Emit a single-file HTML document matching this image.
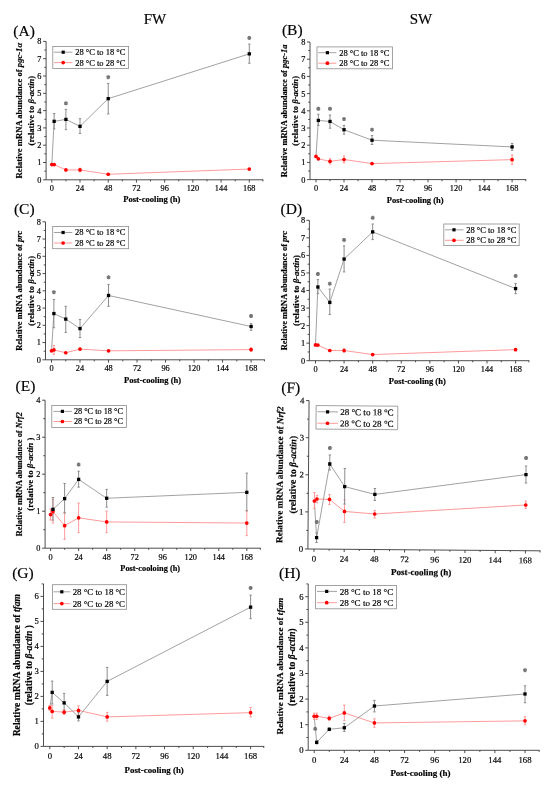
<!DOCTYPE html>
<html><head><meta charset="utf-8"><style>
html,body{margin:0;padding:0;background:#fff;}
body{width:550px;height:787px;overflow:hidden;}
svg{display:block;font-family:"Liberation Serif", serif;filter:blur(0.4px);}
text{stroke:#000;stroke-width:0.18px;}
</style></head><body>
<svg width="550" height="787" viewBox="0 0 550 787">
<text x="154.9" y="23.9" text-anchor="middle" font-size="15">FW</text>
<text x="420.9" y="24.1" text-anchor="middle" font-size="15">SW</text>
<path d="M46.1 41.4V179.8H263.3" fill="none" stroke="#3a3a3a" stroke-width="0.9"/>
<path d="M43.1 179.8H46.1M44.3 171.15H46.1M43.1 162.5H46.1M44.3 153.85H46.1M43.1 145.2H46.1M44.3 136.55H46.1M43.1 127.9H46.1M44.3 119.25H46.1M43.1 110.6H46.1M44.3 101.95H46.1M43.1 93.3H46.1M44.3 84.65H46.1M43.1 76H46.1M44.3 67.35H46.1M43.1 58.7H46.1M44.3 50.05H46.1M43.1 41.4H46.1M51.8 179.8V182.6M65.91 179.8V181.4M80.01 179.8V182.6M94.12 179.8V181.4M108.23 179.8V182.6M122.34 179.8V181.4M136.44 179.8V182.6M150.55 179.8V181.4M164.66 179.8V182.6M178.76 179.8V181.4M192.87 179.8V182.6M206.98 179.8V181.4M221.09 179.8V182.6M235.19 179.8V181.4M249.3 179.8V182.6M262.85 179.8V181.4" stroke="#3a3a3a" stroke-width="0.9"/>
<text x="41.4" y="182.7" text-anchor="end" font-size="8.3">0</text>
<text x="41.4" y="165.4" text-anchor="end" font-size="8.3">1</text>
<text x="41.4" y="148.1" text-anchor="end" font-size="8.3">2</text>
<text x="41.4" y="130.8" text-anchor="end" font-size="8.3">3</text>
<text x="41.4" y="113.5" text-anchor="end" font-size="8.3">4</text>
<text x="41.4" y="96.2" text-anchor="end" font-size="8.3">5</text>
<text x="41.4" y="78.9" text-anchor="end" font-size="8.3">6</text>
<text x="41.4" y="61.6" text-anchor="end" font-size="8.3">7</text>
<text x="41.4" y="44.3" text-anchor="end" font-size="8.3">8</text>
<text x="51.8" y="191.4" text-anchor="middle" font-size="8.3">0</text>
<text x="80.01" y="191.4" text-anchor="middle" font-size="8.3">24</text>
<text x="108.23" y="191.4" text-anchor="middle" font-size="8.3">48</text>
<text x="136.44" y="191.4" text-anchor="middle" font-size="8.3">72</text>
<text x="164.66" y="191.4" text-anchor="middle" font-size="8.3">96</text>
<text x="192.87" y="191.4" text-anchor="middle" font-size="8.3">120</text>
<text x="221.09" y="191.4" text-anchor="middle" font-size="8.3">144</text>
<text x="249.3" y="191.4" text-anchor="middle" font-size="8.3">168</text>
<text transform="translate(22.02 110.6) rotate(-90)" text-anchor="middle" font-size="8.6" font-weight="bold">Relative mRNA abundance of <tspan font-style="italic">pgc-1α</tspan></text>
<text transform="translate(34.22 110.6) rotate(-90)" text-anchor="middle" font-size="8.6" font-weight="bold">(relative to <tspan font-style="italic">β-actin</tspan>)</text>
<text x="151.8" y="201.8" text-anchor="middle" font-size="8.55" font-weight="bold">Post-cooling (h)</text>
<text x="13.3" y="35.6" font-size="15.5">(A)</text>
<rect x="52.8" y="46.4" width="75.8" height="22" fill="#fff" stroke="#8c8c8c" stroke-width="0.8"/>
<path d="M54 52.2h18.4" stroke="#8a8a8a" stroke-width="0.8"/>
<rect x="61.6" y="50.6" width="3.2" height="3.2" fill="#000"/>
<path d="M54 62.6h18.4" stroke="#ff8080" stroke-width="0.8"/>
<circle cx="63.2" cy="62.6" r="1.85" fill="#f00"/>
<text x="75.2" y="55.13" font-size="8.5">28 °C to 18 °C</text>
<text x="75.2" y="65.53" font-size="8.5">28 °C to 28 °C</text>
<polyline points="51.8,164.58 54.15,164.58 65.91,169.94 80.01,169.94 108.23,174.26 249.3,169.07" fill="none" stroke="#ff8080" stroke-width="0.8"/>
<polyline points="51.8,164.58 54.15,121.33 65.91,119.42 80.01,126.34 108.23,98.66 249.3,53.86" fill="none" stroke="#8a8a8a" stroke-width="0.8"/>
<path d="M80.01 171.67V168.21M78.81 171.67h2.4M78.81 168.21h2.4" stroke="#ff9a9a" stroke-width="1"/>
<path d="M54.15 128.94V113.54M52.95 128.94h2.4M52.95 113.54h2.4M65.91 129.63V109.39M64.71 129.63h2.4M64.71 109.39h2.4M80.01 133.44V118.73M78.81 133.44h2.4M78.81 118.73h2.4M108.23 113.89V83.44M107.03 113.89h2.4M107.03 83.44h2.4M249.3 63.2V44.17M248.1 63.2h2.4M248.1 44.17h2.4" stroke="#8c8c8c" stroke-width="1"/>
<circle cx="51.8" cy="164.58" r="1.85" fill="#f00"/>
<circle cx="54.15" cy="164.58" r="1.85" fill="#f00"/>
<circle cx="65.91" cy="169.94" r="1.85" fill="#f00"/>
<circle cx="80.01" cy="169.94" r="1.85" fill="#f00"/>
<circle cx="108.23" cy="174.26" r="1.85" fill="#f00"/>
<circle cx="249.3" cy="169.07" r="1.85" fill="#f00"/>
<rect x="52.5" y="119.68" width="3.3" height="3.3" fill="#000"/>
<rect x="64.26" y="117.77" width="3.3" height="3.3" fill="#000"/>
<rect x="78.36" y="124.69" width="3.3" height="3.3" fill="#000"/>
<rect x="106.58" y="97.01" width="3.3" height="3.3" fill="#000"/>
<rect x="247.65" y="52.21" width="3.3" height="3.3" fill="#000"/>
<path d="M65.91 101.33L65.91 105.33M64.18 102.33L67.64 104.33M64.18 104.33L67.64 102.33" stroke="#777" stroke-width="1.5"/>
<circle cx="65.91" cy="103.33" r="1.2" fill="#777"/>
<path d="M108.23 75.21L108.23 79.21M106.5 76.21L109.96 78.21M106.5 78.21L109.96 76.21" stroke="#777" stroke-width="1.5"/>
<circle cx="108.23" cy="77.21" r="1.2" fill="#777"/>
<path d="M249.3 35.94L249.3 39.94M247.57 36.94L251.03 38.94M247.57 38.94L251.03 36.94" stroke="#777" stroke-width="1.5"/>
<circle cx="249.3" cy="37.94" r="1.2" fill="#777"/>
<path d="M310 42V179.6H526.2" fill="none" stroke="#3a3a3a" stroke-width="0.9"/>
<path d="M307 179.6H310M308.2 171H310M307 162.4H310M308.2 153.8H310M307 145.2H310M308.2 136.6H310M307 128H310M308.2 119.4H310M307 110.8H310M308.2 102.2H310M307 93.6H310M308.2 85H310M307 76.4H310M308.2 67.8H310M307 59.2H310M308.2 50.6H310M307 42H310M316 179.6V182.4M330.01 179.6V181.2M344.01 179.6V182.4M358.02 179.6V181.2M372.03 179.6V182.4M386.04 179.6V181.2M400.04 179.6V182.4M414.05 179.6V181.2M428.06 179.6V182.4M442.06 179.6V181.2M456.07 179.6V182.4M470.08 179.6V181.2M484.09 179.6V182.4M498.09 179.6V181.2M512.1 179.6V182.4M525.75 179.6V181.2" stroke="#3a3a3a" stroke-width="0.9"/>
<text x="305.3" y="182.5" text-anchor="end" font-size="8.3">0</text>
<text x="305.3" y="165.3" text-anchor="end" font-size="8.3">1</text>
<text x="305.3" y="148.1" text-anchor="end" font-size="8.3">2</text>
<text x="305.3" y="130.9" text-anchor="end" font-size="8.3">3</text>
<text x="305.3" y="113.7" text-anchor="end" font-size="8.3">4</text>
<text x="305.3" y="96.5" text-anchor="end" font-size="8.3">5</text>
<text x="305.3" y="79.3" text-anchor="end" font-size="8.3">6</text>
<text x="305.3" y="62.1" text-anchor="end" font-size="8.3">7</text>
<text x="305.3" y="44.9" text-anchor="end" font-size="8.3">8</text>
<text x="316" y="191.2" text-anchor="middle" font-size="8.3">0</text>
<text x="344.01" y="191.2" text-anchor="middle" font-size="8.3">24</text>
<text x="372.03" y="191.2" text-anchor="middle" font-size="8.3">48</text>
<text x="400.04" y="191.2" text-anchor="middle" font-size="8.3">72</text>
<text x="428.06" y="191.2" text-anchor="middle" font-size="8.3">96</text>
<text x="456.07" y="191.2" text-anchor="middle" font-size="8.3">120</text>
<text x="484.09" y="191.2" text-anchor="middle" font-size="8.3">144</text>
<text x="512.1" y="191.2" text-anchor="middle" font-size="8.3">168</text>
<text transform="translate(286.97 110.85) rotate(-90)" text-anchor="middle" font-size="8.45" font-weight="bold">Relative mRNA abundance of <tspan font-style="italic">pgc-1a</tspan></text>
<text transform="translate(298.22 110.8) rotate(-90)" text-anchor="middle" font-size="8.6" font-weight="bold">(relative to <tspan font-style="italic">β-actin</tspan>)</text>
<text x="415.2" y="202.9" text-anchor="middle" font-size="8.5" font-weight="bold">Post-cooling (h)</text>
<text x="281.9" y="35" font-size="15.5">(B)</text>
<rect x="317" y="46.9" width="75.4" height="21.9" fill="#fff" stroke="#8c8c8c" stroke-width="0.8"/>
<path d="M318.2 52.7h18.2" stroke="#8a8a8a" stroke-width="0.8"/>
<rect x="325.8" y="51.1" width="3.2" height="3.2" fill="#000"/>
<path d="M318.2 63.2h18.2" stroke="#ff8080" stroke-width="0.8"/>
<circle cx="327.4" cy="63.2" r="1.85" fill="#f00"/>
<text x="339.2" y="55.63" font-size="8.5">28 °C to 18 °C</text>
<text x="339.2" y="66.13" font-size="8.5">28 °C to 28 °C</text>
<polyline points="316,156.38 318.33,158.79 330.01,161.37 344.01,159.48 372.03,163.6 512.1,159.65" fill="none" stroke="#ff8080" stroke-width="0.8"/>
<polyline points="316,156.38 318.33,120.43 330.01,121.46 344.01,129.72 372.03,140.21 512.1,146.92" fill="none" stroke="#8a8a8a" stroke-width="0.8"/>
<path d="M330.01 163.95V158.79M328.81 163.95h2.4M328.81 158.79h2.4M344.01 162.92V156.04M342.81 162.92h2.4M342.81 156.04h2.4M512.1 164.46V154.83M510.9 164.46h2.4M510.9 154.83h2.4" stroke="#ff9a9a" stroke-width="1"/>
<path d="M318.33 125.42V114.24M317.13 125.42h2.4M317.13 114.24h2.4M330.01 128.17V115.1M328.81 128.17h2.4M328.81 115.1h2.4M344.01 134.19V125.42M342.81 134.19h2.4M342.81 125.42h2.4M372.03 144.51V135.57M370.83 144.51h2.4M370.83 135.57h2.4M512.1 150.36V143.48M510.9 150.36h2.4M510.9 143.48h2.4" stroke="#8c8c8c" stroke-width="1"/>
<circle cx="316" cy="156.38" r="1.85" fill="#f00"/>
<circle cx="318.33" cy="158.79" r="1.85" fill="#f00"/>
<circle cx="330.01" cy="161.37" r="1.85" fill="#f00"/>
<circle cx="344.01" cy="159.48" r="1.85" fill="#f00"/>
<circle cx="372.03" cy="163.6" r="1.85" fill="#f00"/>
<circle cx="512.1" cy="159.65" r="1.85" fill="#f00"/>
<rect x="316.68" y="118.78" width="3.3" height="3.3" fill="#000"/>
<rect x="328.36" y="119.81" width="3.3" height="3.3" fill="#000"/>
<rect x="342.36" y="128.07" width="3.3" height="3.3" fill="#000"/>
<rect x="370.38" y="138.56" width="3.3" height="3.3" fill="#000"/>
<rect x="510.45" y="145.27" width="3.3" height="3.3" fill="#000"/>
<path d="M318.33 106.74L318.33 110.74M316.6 107.74L320.07 109.74M316.6 109.74L320.07 107.74" stroke="#777" stroke-width="1.5"/>
<circle cx="318.33" cy="108.74" r="1.2" fill="#777"/>
<path d="M330.01 106.74L330.01 110.74M328.28 107.74L331.74 109.74M328.28 109.74L331.74 107.74" stroke="#777" stroke-width="1.5"/>
<circle cx="330.01" cy="108.74" r="1.2" fill="#777"/>
<path d="M344.01 117.06L344.01 121.06M342.28 118.06L345.75 120.06M342.28 120.06L345.75 118.06" stroke="#777" stroke-width="1.5"/>
<circle cx="344.01" cy="119.06" r="1.2" fill="#777"/>
<path d="M372.03 127.72L372.03 131.72M370.3 128.72L373.76 130.72M370.3 130.72L373.76 128.72" stroke="#777" stroke-width="1.5"/>
<circle cx="372.03" cy="129.72" r="1.2" fill="#777"/>
<path d="M45.5 221.8V359.8H264.9" fill="none" stroke="#3a3a3a" stroke-width="0.9"/>
<path d="M42.5 359.8H45.5M43.7 351.18H45.5M42.5 342.55H45.5M43.7 333.93H45.5M42.5 325.3H45.5M43.7 316.68H45.5M42.5 308.05H45.5M43.7 299.43H45.5M42.5 290.8H45.5M43.7 282.18H45.5M42.5 273.55H45.5M43.7 264.93H45.5M42.5 256.3H45.5M43.7 247.68H45.5M42.5 239.05H45.5M43.7 230.43H45.5M42.5 221.8H45.5M51.5 359.8V362.6M65.76 359.8V361.4M80.01 359.8V362.6M94.27 359.8V361.4M108.53 359.8V362.6M122.79 359.8V361.4M137.04 359.8V362.6M151.3 359.8V361.4M165.56 359.8V362.6M179.81 359.8V361.4M194.07 359.8V362.6M208.33 359.8V361.4M222.59 359.8V362.6M236.84 359.8V361.4M251.1 359.8V362.6M264.45 359.8V361.4" stroke="#3a3a3a" stroke-width="0.9"/>
<text x="40.8" y="362.7" text-anchor="end" font-size="8.3">0</text>
<text x="40.8" y="345.45" text-anchor="end" font-size="8.3">1</text>
<text x="40.8" y="328.2" text-anchor="end" font-size="8.3">2</text>
<text x="40.8" y="310.95" text-anchor="end" font-size="8.3">3</text>
<text x="40.8" y="293.7" text-anchor="end" font-size="8.3">4</text>
<text x="40.8" y="276.45" text-anchor="end" font-size="8.3">5</text>
<text x="40.8" y="259.2" text-anchor="end" font-size="8.3">6</text>
<text x="40.8" y="241.95" text-anchor="end" font-size="8.3">7</text>
<text x="40.8" y="224.7" text-anchor="end" font-size="8.3">8</text>
<text x="51.5" y="371.4" text-anchor="middle" font-size="8.3">0</text>
<text x="80.01" y="371.4" text-anchor="middle" font-size="8.3">24</text>
<text x="108.53" y="371.4" text-anchor="middle" font-size="8.3">48</text>
<text x="137.04" y="371.4" text-anchor="middle" font-size="8.3">72</text>
<text x="165.56" y="371.4" text-anchor="middle" font-size="8.3">96</text>
<text x="194.07" y="371.4" text-anchor="middle" font-size="8.3">120</text>
<text x="222.59" y="371.4" text-anchor="middle" font-size="8.3">144</text>
<text x="251.1" y="371.4" text-anchor="middle" font-size="8.3">168</text>
<text transform="translate(21.86 290.8) rotate(-90)" text-anchor="middle" font-size="8.42" font-weight="bold">Relative mRNA abundance of <tspan font-style="italic">prc</tspan></text>
<text transform="translate(34.22 290.8) rotate(-90)" text-anchor="middle" font-size="8.6" font-weight="bold">(relative to <tspan font-style="italic">β-actin</tspan>)</text>
<text x="152.6" y="382.9" text-anchor="middle" font-size="8.55" font-weight="bold">Post-cooling (h)</text>
<text x="13.9" y="213.8" font-size="15.5">(C)</text>
<rect x="52.7" y="226.4" width="75.9" height="22.3" fill="#fff" stroke="#8c8c8c" stroke-width="0.8"/>
<path d="M53.9 232.5h18.4" stroke="#8a8a8a" stroke-width="0.8"/>
<rect x="61.5" y="230.9" width="3.2" height="3.2" fill="#000"/>
<path d="M53.9 243h18.4" stroke="#ff8080" stroke-width="0.8"/>
<circle cx="63.1" cy="243" r="1.85" fill="#f00"/>
<text x="75.1" y="235.43" font-size="8.5">28 °C to 18 °C</text>
<text x="75.1" y="245.93" font-size="8.5">28 °C to 28 °C</text>
<polyline points="51.5,350.83 53.88,349.97 65.76,352.73 80.01,349.11 108.53,350.83 251.1,349.62" fill="none" stroke="#ff8080" stroke-width="0.8"/>
<polyline points="51.5,350.83 53.88,313.57 65.76,319.09 80.01,328.58 108.53,295.46 251.1,326.51" fill="none" stroke="#8a8a8a" stroke-width="0.8"/>
<path d="M53.88 354.45V345.48M52.68 354.45h2.4M52.68 345.48h2.4M251.1 351.35V347.9M249.9 351.35h2.4M249.9 347.9h2.4" stroke="#ff9a9a" stroke-width="1"/>
<path d="M53.88 327.72V299.43M52.68 327.72h2.4M52.68 299.43h2.4M65.76 332.37V306.32M64.56 332.37h2.4M64.56 306.32h2.4M80.01 337.55V319.44M78.81 337.55h2.4M78.81 319.44h2.4M108.53 306.32V284.42M107.33 306.32h2.4M107.33 284.42h2.4M251.1 330.3V323.57M249.9 330.3h2.4M249.9 323.57h2.4" stroke="#8c8c8c" stroke-width="1"/>
<circle cx="51.5" cy="350.83" r="1.85" fill="#f00"/>
<circle cx="53.88" cy="349.97" r="1.85" fill="#f00"/>
<circle cx="65.76" cy="352.73" r="1.85" fill="#f00"/>
<circle cx="80.01" cy="349.11" r="1.85" fill="#f00"/>
<circle cx="108.53" cy="350.83" r="1.85" fill="#f00"/>
<circle cx="251.1" cy="349.62" r="1.85" fill="#f00"/>
<rect x="52.23" y="311.92" width="3.3" height="3.3" fill="#000"/>
<rect x="64.11" y="317.44" width="3.3" height="3.3" fill="#000"/>
<rect x="78.36" y="326.93" width="3.3" height="3.3" fill="#000"/>
<rect x="106.88" y="293.81" width="3.3" height="3.3" fill="#000"/>
<rect x="249.45" y="324.86" width="3.3" height="3.3" fill="#000"/>
<path d="M53.88 290.18L53.88 294.18M52.14 291.18L55.61 293.18M52.14 293.18L55.61 291.18" stroke="#777" stroke-width="1.5"/>
<circle cx="53.88" cy="292.18" r="1.2" fill="#777"/>
<path d="M108.53 275.35L108.53 279.35M106.8 276.35L110.26 278.35M106.8 278.35L110.26 276.35" stroke="#777" stroke-width="1.5"/>
<circle cx="108.53" cy="277.35" r="1.2" fill="#777"/>
<path d="M251.1 313.99L251.1 317.99M249.37 314.99L252.83 316.99M249.37 316.99L252.83 314.99" stroke="#777" stroke-width="1.5"/>
<circle cx="251.1" cy="315.99" r="1.2" fill="#777"/>
<path d="M309.4 220.3V360.7H529.3" fill="none" stroke="#3a3a3a" stroke-width="0.9"/>
<path d="M306.4 360.7H309.4M307.6 351.93H309.4M306.4 343.15H309.4M307.6 334.38H309.4M306.4 325.6H309.4M307.6 316.82H309.4M306.4 308.05H309.4M307.6 299.27H309.4M306.4 290.5H309.4M307.6 281.72H309.4M306.4 272.95H309.4M307.6 264.17H309.4M306.4 255.4H309.4M307.6 246.62H309.4M306.4 237.85H309.4M307.6 229.07H309.4M306.4 220.3H309.4M315.5 360.7V363.5M329.79 360.7V362.3M344.09 360.7V363.5M358.38 360.7V362.3M372.67 360.7V363.5M386.96 360.7V362.3M401.26 360.7V363.5M415.55 360.7V362.3M429.84 360.7V363.5M444.14 360.7V362.3M458.43 360.7V363.5M472.72 360.7V362.3M487.01 360.7V363.5M501.31 360.7V362.3M515.6 360.7V363.5M528.85 360.7V362.3" stroke="#3a3a3a" stroke-width="0.9"/>
<text x="305.1" y="363.6" text-anchor="end" font-size="8.3">0</text>
<text x="305.1" y="346.05" text-anchor="end" font-size="8.3">1</text>
<text x="305.1" y="328.5" text-anchor="end" font-size="8.3">2</text>
<text x="305.1" y="310.95" text-anchor="end" font-size="8.3">3</text>
<text x="305.1" y="293.4" text-anchor="end" font-size="8.3">4</text>
<text x="305.1" y="275.85" text-anchor="end" font-size="8.3">5</text>
<text x="305.1" y="258.3" text-anchor="end" font-size="8.3">6</text>
<text x="305.1" y="240.75" text-anchor="end" font-size="8.3">7</text>
<text x="305.1" y="223.2" text-anchor="end" font-size="8.3">8</text>
<text x="315.5" y="372.3" text-anchor="middle" font-size="8.3">0</text>
<text x="344.09" y="372.3" text-anchor="middle" font-size="8.3">24</text>
<text x="372.67" y="372.3" text-anchor="middle" font-size="8.3">48</text>
<text x="401.26" y="372.3" text-anchor="middle" font-size="8.3">72</text>
<text x="429.84" y="372.3" text-anchor="middle" font-size="8.3">96</text>
<text x="458.43" y="372.3" text-anchor="middle" font-size="8.3">120</text>
<text x="487.01" y="372.3" text-anchor="middle" font-size="8.3">144</text>
<text x="515.6" y="372.3" text-anchor="middle" font-size="8.3">168</text>
<text transform="translate(286.96 290.5) rotate(-90)" text-anchor="middle" font-size="8.4" font-weight="bold">Relative mRNA abundance of <tspan font-style="italic">prc</tspan></text>
<text transform="translate(298.68 290.5) rotate(-90)" text-anchor="middle" font-size="8.75" font-weight="bold">(relative to <tspan font-style="italic">β-actin</tspan>)</text>
<text x="417.3" y="383.6" text-anchor="middle" font-size="8.5" font-weight="bold">Post-cooling (h)</text>
<text x="280.6" y="213.8" font-size="15.5">(D)</text>
<rect x="443.8" y="224" width="75.4" height="21.6" fill="#fff" stroke="#8c8c8c" stroke-width="0.8"/>
<path d="M445 229.8h18.4" stroke="#8a8a8a" stroke-width="0.8"/>
<rect x="452.4" y="228.2" width="3.2" height="3.2" fill="#000"/>
<path d="M445 240.3h18.4" stroke="#ff8080" stroke-width="0.8"/>
<circle cx="454" cy="240.3" r="1.85" fill="#f00"/>
<text x="466.2" y="232.73" font-size="8.5">28 °C to 18 °C</text>
<text x="466.2" y="243.23" font-size="8.5">28 °C to 28 °C</text>
<polyline points="315.5,344.9 317.88,345.08 329.79,350.52 344.09,350.52 372.67,354.56 515.6,349.64" fill="none" stroke="#ff8080" stroke-width="0.8"/>
<polyline points="315.5,344.9 317.88,286.99 329.79,302.43 344.09,259.09 372.67,231.88 515.6,288.57" fill="none" stroke="#8a8a8a" stroke-width="0.8"/>
<path d="M344.09 352.28V348.77M342.89 352.28h2.4M342.89 348.77h2.4" stroke="#ff9a9a" stroke-width="1"/>
<path d="M317.88 293.66V279.62M316.68 293.66h2.4M316.68 279.62h2.4M329.79 314.54V289.1M328.59 314.54h2.4M328.59 289.1h2.4M344.09 271.9V245.92M342.89 271.9h2.4M342.89 245.92h2.4M372.67 239.6V223.99M371.47 239.6h2.4M371.47 223.99h2.4M515.6 293.66V283.48M514.4 293.66h2.4M514.4 283.48h2.4" stroke="#8c8c8c" stroke-width="1"/>
<circle cx="315.5" cy="344.9" r="1.85" fill="#f00"/>
<circle cx="317.88" cy="345.08" r="1.85" fill="#f00"/>
<circle cx="329.79" cy="350.52" r="1.85" fill="#f00"/>
<circle cx="344.09" cy="350.52" r="1.85" fill="#f00"/>
<circle cx="372.67" cy="354.56" r="1.85" fill="#f00"/>
<circle cx="515.6" cy="349.64" r="1.85" fill="#f00"/>
<rect x="316.23" y="285.34" width="3.3" height="3.3" fill="#000"/>
<rect x="328.14" y="300.78" width="3.3" height="3.3" fill="#000"/>
<rect x="342.44" y="257.44" width="3.3" height="3.3" fill="#000"/>
<rect x="371.02" y="230.23" width="3.3" height="3.3" fill="#000"/>
<rect x="513.95" y="286.92" width="3.3" height="3.3" fill="#000"/>
<path d="M317.88 272L317.88 276M316.15 273L319.61 275M316.15 275L319.61 273" stroke="#777" stroke-width="1.5"/>
<circle cx="317.88" cy="274" r="1.2" fill="#777"/>
<path d="M329.79 281.66L329.79 285.66M328.06 282.66L331.52 284.66M328.06 284.66L331.52 282.66" stroke="#777" stroke-width="1.5"/>
<circle cx="329.79" cy="283.66" r="1.2" fill="#777"/>
<path d="M344.09 237.96L344.09 241.96M342.35 238.96L345.82 240.96M342.35 240.96L345.82 238.96" stroke="#777" stroke-width="1.5"/>
<circle cx="344.09" cy="239.96" r="1.2" fill="#777"/>
<path d="M372.67 215.84L372.67 219.84M370.94 216.84L374.4 218.84M370.94 218.84L374.4 216.84" stroke="#777" stroke-width="1.5"/>
<circle cx="372.67" cy="217.84" r="1.2" fill="#777"/>
<path d="M515.6 273.93L515.6 277.93M513.87 274.93L517.33 276.93M513.87 276.93L517.33 274.93" stroke="#777" stroke-width="1.5"/>
<circle cx="515.6" cy="275.93" r="1.2" fill="#777"/>
<path d="M45.1 400.2V548.2H260.8" fill="none" stroke="#3a3a3a" stroke-width="0.9"/>
<path d="M42.1 548.2H45.1M43.3 529.7H45.1M42.1 511.2H45.1M43.3 492.7H45.1M42.1 474.2H45.1M43.3 455.7H45.1M42.1 437.2H45.1M43.3 418.7H45.1M42.1 400.2H45.1M50.6 548.2V551M64.61 548.2V549.8M78.63 548.2V551M92.64 548.2V549.8M106.66 548.2V551M120.67 548.2V549.8M134.69 548.2V551M148.7 548.2V549.8M162.71 548.2V551M176.73 548.2V549.8M190.74 548.2V551M204.76 548.2V549.8M218.77 548.2V551M232.79 548.2V549.8M246.8 548.2V551M260.35 548.2V549.8" stroke="#3a3a3a" stroke-width="0.9"/>
<text x="40.4" y="551.1" text-anchor="end" font-size="8.3">0</text>
<text x="40.4" y="514.1" text-anchor="end" font-size="8.3">1</text>
<text x="40.4" y="477.1" text-anchor="end" font-size="8.3">2</text>
<text x="40.4" y="440.1" text-anchor="end" font-size="8.3">3</text>
<text x="40.4" y="403.1" text-anchor="end" font-size="8.3">4</text>
<text x="50.6" y="559.6" text-anchor="middle" font-size="8.3">0</text>
<text x="78.63" y="559.6" text-anchor="middle" font-size="8.3">24</text>
<text x="106.66" y="559.6" text-anchor="middle" font-size="8.3">48</text>
<text x="134.69" y="559.6" text-anchor="middle" font-size="8.3">72</text>
<text x="162.71" y="559.6" text-anchor="middle" font-size="8.3">96</text>
<text x="190.74" y="559.6" text-anchor="middle" font-size="8.3">120</text>
<text x="218.77" y="559.6" text-anchor="middle" font-size="8.3">144</text>
<text x="246.8" y="559.6" text-anchor="middle" font-size="8.3">168</text>
<text transform="translate(22.14 474.2) rotate(-90)" text-anchor="middle" font-size="8.36" font-weight="bold">Relative mRNA abundance of <tspan font-style="italic">Nrf2</tspan></text>
<text transform="translate(33.48 474.2) rotate(-90)" text-anchor="middle" font-size="8.75" font-weight="bold">(relative to <tspan font-style="italic">β-actin</tspan> )</text>
<text x="150.2" y="570.8" text-anchor="middle" font-size="8.3" font-weight="bold">Post-cooloing (h)</text>
<text x="15.5" y="391.1" font-size="15.5">(E)</text>
<rect x="51.8" y="405.5" width="74.6" height="22" fill="#fff" stroke="#8c8c8c" stroke-width="0.8"/>
<path d="M53.4 411.4h18.4" stroke="#8a8a8a" stroke-width="0.8"/>
<rect x="60.8" y="409.8" width="3.2" height="3.2" fill="#000"/>
<path d="M53.4 421.5h18.4" stroke="#ff8080" stroke-width="0.8"/>
<circle cx="62.4" cy="421.5" r="1.85" fill="#f00"/>
<text x="73.9" y="414.26" font-size="8.3">28 °C to 18 °C</text>
<text x="73.9" y="424.36" font-size="8.3">28 °C to 28 °C</text>
<polyline points="50.6,514.53 52.94,511.57 64.61,525.63 78.63,517.86 106.66,521.93 246.8,523.04" fill="none" stroke="#ff8080" stroke-width="0.8"/>
<polyline points="52.94,509.35 64.61,498.62 78.63,479.38 106.66,498.25 246.8,492.33" fill="none" stroke="#8a8a8a" stroke-width="0.8"/>
<path d="M50.6 520.08V508.98M49.4 520.08h2.4M49.4 508.98h2.4M52.94 523.04V499.36M51.74 523.04h2.4M51.74 499.36h2.4M64.61 539.32V512.31M63.41 539.32h2.4M63.41 512.31h2.4M78.63 532.66V503.06M77.43 532.66h2.4M77.43 503.06h2.4M106.66 532.66V511.2M105.46 532.66h2.4M105.46 511.2h2.4M246.8 535.62V510.83M245.6 535.62h2.4M245.6 510.83h2.4" stroke="#ff9a9a" stroke-width="1"/>
<path d="M52.94 520.08V497.51M51.74 520.08h2.4M51.74 497.51h2.4M64.61 513.05V483.45M63.41 513.05h2.4M63.41 483.45h2.4M78.63 487.15V471.24M77.43 487.15h2.4M77.43 471.24h2.4M106.66 507.13V489.37M105.46 507.13h2.4M105.46 489.37h2.4M246.8 510.83V473.09M245.6 510.83h2.4M245.6 473.09h2.4" stroke="#8c8c8c" stroke-width="1"/>
<circle cx="50.6" cy="514.53" r="1.85" fill="#f00"/>
<circle cx="52.94" cy="511.57" r="1.85" fill="#f00"/>
<circle cx="64.61" cy="525.63" r="1.85" fill="#f00"/>
<circle cx="78.63" cy="517.86" r="1.85" fill="#f00"/>
<circle cx="106.66" cy="521.93" r="1.85" fill="#f00"/>
<circle cx="246.8" cy="523.04" r="1.85" fill="#f00"/>
<rect x="51.29" y="507.7" width="3.3" height="3.3" fill="#000"/>
<rect x="62.96" y="496.97" width="3.3" height="3.3" fill="#000"/>
<rect x="76.98" y="477.73" width="3.3" height="3.3" fill="#000"/>
<rect x="105.01" y="496.6" width="3.3" height="3.3" fill="#000"/>
<rect x="245.15" y="490.68" width="3.3" height="3.3" fill="#000"/>
<path d="M78.63 462.58L78.63 466.58M76.9 463.58L80.36 465.58M76.9 465.58L80.36 463.58" stroke="#777" stroke-width="1.5"/>
<circle cx="78.63" cy="464.58" r="1.2" fill="#777"/>
<g transform="rotate(0.45 307.9 549.0)">
<path d="M307.9 400.6V549H540.5" fill="none" stroke="#3a3a3a" stroke-width="0.9"/>
<path d="M304.9 549H307.9M306.1 530.45H307.9M304.9 511.9H307.9M306.1 493.35H307.9M304.9 474.8H307.9M306.1 456.25H307.9M304.9 437.7H307.9M306.1 419.15H307.9M304.9 400.6H307.9M314 549V551.8M329.1 549V550.6M344.2 549V551.8M359.3 549V550.6M374.4 549V551.8M389.5 549V550.6M404.6 549V551.8M419.7 549V550.6M434.8 549V551.8M449.9 549V550.6M465 549V551.8M480.1 549V550.6M495.2 549V551.8M510.3 549V550.6M525.4 549V551.8M540.05 549V550.6" stroke="#3a3a3a" stroke-width="0.9"/>
<text x="303.2" y="551.9" text-anchor="end" font-size="8.7">0</text>
<text x="303.2" y="514.8" text-anchor="end" font-size="8.7">1</text>
<text x="303.2" y="477.7" text-anchor="end" font-size="8.7">2</text>
<text x="303.2" y="440.6" text-anchor="end" font-size="8.7">3</text>
<text x="303.2" y="403.5" text-anchor="end" font-size="8.7">4</text>
<text x="314" y="561.5" text-anchor="middle" font-size="8.7">0</text>
<text x="344.2" y="561.5" text-anchor="middle" font-size="8.7">24</text>
<text x="374.4" y="561.5" text-anchor="middle" font-size="8.7">48</text>
<text x="404.6" y="561.5" text-anchor="middle" font-size="8.7">72</text>
<text x="434.8" y="561.5" text-anchor="middle" font-size="8.7">96</text>
<text x="465" y="561.5" text-anchor="middle" font-size="8.7">120</text>
<text x="495.2" y="561.5" text-anchor="middle" font-size="8.7">144</text>
<text x="525.4" y="561.5" text-anchor="middle" font-size="8.7">168</text>
<text transform="translate(282.22 474.8) rotate(-90)" text-anchor="middle" font-size="9.19" font-weight="bold">Relative mRNA abundance of <tspan font-style="italic">Nrf2</tspan></text>
<text transform="translate(295.36 474.8) rotate(-90)" text-anchor="middle" font-size="9.6" font-weight="bold">(relative to <tspan font-style="italic">β-actin</tspan>)</text>
<text x="421.4" y="574.3" text-anchor="middle" font-size="9.0" font-weight="bold">Post-cooling (h)</text>
<text x="280" y="392.9" font-size="15.5">(F)</text>
<rect x="315" y="405.5" width="81.7" height="23.5" fill="#fff" stroke="#8c8c8c" stroke-width="0.8"/>
<path d="M316.4 411.7h20.4" stroke="#8a8a8a" stroke-width="0.8"/>
<rect x="324.9" y="410.1" width="3.2" height="3.2" fill="#000"/>
<path d="M316.4 423.1h20.4" stroke="#ff8080" stroke-width="0.8"/>
<circle cx="326.5" cy="423.1" r="1.85" fill="#f00"/>
<text x="339.1" y="414.82" font-size="9.05">28 °C to 18 °C</text>
<text x="339.1" y="426.22" font-size="9.05">28 °C to 28 °C</text>
<polyline points="314,500.96 316.52,498.91 329.1,499.21 344.2,511.12 374.4,513.46 525.4,503.29" fill="none" stroke="#ff8080" stroke-width="0.8"/>
<polyline points="314,500.96 316.52,537.54 329.1,463.82 344.2,486.3 374.4,493.87 525.4,472.87" fill="none" stroke="#8a8a8a" stroke-width="0.8"/>
<path d="M314 508.56V492.53M312.8 508.56h2.4M312.8 492.53h2.4M316.52 502.62V495.24M315.32 502.62h2.4M315.32 495.24h2.4M329.1 504.22V494.24M327.9 504.22h2.4M327.9 494.24h2.4M344.2 522.1V499.73M343 522.1h2.4M343 499.73h2.4M374.4 517.47V510.08M373.2 517.47h2.4M373.2 510.08h2.4M525.4 506.71V499.29M524.2 506.71h2.4M524.2 499.29h2.4" stroke="#ff9a9a" stroke-width="1"/>
<path d="M316.52 542.54V532.94M315.32 542.54h2.4M315.32 532.94h2.4M329.1 469.83V454.84M327.9 469.83h2.4M327.9 454.84h2.4M344.2 503.7V468.31M343 503.7h2.4M343 468.31h2.4M374.4 500.07V488.08M373.2 500.07h2.4M373.2 488.08h2.4M525.4 481.29V464.3M524.2 481.29h2.4M524.2 464.3h2.4" stroke="#8c8c8c" stroke-width="1"/>
<circle cx="314" cy="500.96" r="1.85" fill="#f00"/>
<circle cx="316.52" cy="498.91" r="1.85" fill="#f00"/>
<circle cx="329.1" cy="499.21" r="1.85" fill="#f00"/>
<circle cx="344.2" cy="511.12" r="1.85" fill="#f00"/>
<circle cx="374.4" cy="513.46" r="1.85" fill="#f00"/>
<circle cx="525.4" cy="503.29" r="1.85" fill="#f00"/>
<rect x="314.87" y="535.89" width="3.3" height="3.3" fill="#000"/>
<rect x="327.45" y="462.17" width="3.3" height="3.3" fill="#000"/>
<rect x="342.55" y="484.65" width="3.3" height="3.3" fill="#000"/>
<rect x="372.75" y="492.22" width="3.3" height="3.3" fill="#000"/>
<rect x="523.75" y="471.22" width="3.3" height="3.3" fill="#000"/>
<path d="M316.52 519.92L316.52 523.92M314.78 520.92L318.25 522.92M314.78 522.92L318.25 520.92" stroke="#777" stroke-width="1.5"/>
<circle cx="316.52" cy="521.92" r="1.2" fill="#777"/>
<path d="M329.1 445.83L329.1 449.83M327.37 446.83L330.83 448.83M327.37 448.83L330.83 446.83" stroke="#777" stroke-width="1.5"/>
<circle cx="329.1" cy="447.83" r="1.2" fill="#777"/>
<path d="M525.4 454.29L525.4 458.29M523.67 455.29L527.13 457.29M523.67 457.29L527.13 455.29" stroke="#777" stroke-width="1.5"/>
<circle cx="525.4" cy="456.29" r="1.2" fill="#777"/>
</g>
<path d="M43.5 583.9V746.4H264.2" fill="none" stroke="#3a3a3a" stroke-width="0.9"/>
<path d="M40.5 746.4H43.5M41.7 733.9H43.5M40.5 721.4H43.5M41.7 708.9H43.5M40.5 696.4H43.5M41.7 683.9H43.5M40.5 671.4H43.5M41.7 658.9H43.5M40.5 646.4H43.5M41.7 633.9H43.5M40.5 621.4H43.5M41.7 608.9H43.5M40.5 596.4H43.5M41.7 583.9H43.5M49.8 746.4V749.2M64.14 746.4V748M78.49 746.4V749.2M92.83 746.4V748M107.17 746.4V749.2M121.51 746.4V748M135.86 746.4V749.2M150.2 746.4V748M164.54 746.4V749.2M178.89 746.4V748M193.23 746.4V749.2M207.57 746.4V748M221.91 746.4V749.2M236.26 746.4V748M250.6 746.4V749.2M263.75 746.4V748" stroke="#3a3a3a" stroke-width="0.9"/>
<text x="38.8" y="749.3" text-anchor="end" font-size="8.7">0</text>
<text x="38.8" y="724.3" text-anchor="end" font-size="8.7">1</text>
<text x="38.8" y="699.3" text-anchor="end" font-size="8.7">2</text>
<text x="38.8" y="674.3" text-anchor="end" font-size="8.7">3</text>
<text x="38.8" y="649.3" text-anchor="end" font-size="8.7">4</text>
<text x="38.8" y="624.3" text-anchor="end" font-size="8.7">5</text>
<text x="38.8" y="599.3" text-anchor="end" font-size="8.7">6</text>
<text x="49.8" y="758.7" text-anchor="middle" font-size="8.7">0</text>
<text x="78.49" y="758.7" text-anchor="middle" font-size="8.7">24</text>
<text x="107.17" y="758.7" text-anchor="middle" font-size="8.7">48</text>
<text x="135.86" y="758.7" text-anchor="middle" font-size="8.7">72</text>
<text x="164.54" y="758.7" text-anchor="middle" font-size="8.7">96</text>
<text x="193.23" y="758.7" text-anchor="middle" font-size="8.7">120</text>
<text x="221.91" y="758.7" text-anchor="middle" font-size="8.7">144</text>
<text x="250.6" y="758.7" text-anchor="middle" font-size="8.7">168</text>
<text transform="translate(19.76 665.15) rotate(-90)" text-anchor="middle" font-size="9.6" font-weight="bold">Relative mRNA abundance of <tspan font-style="italic">tfam</tspan></text>
<text transform="translate(31.86 665.15) rotate(-90)" text-anchor="middle" font-size="9.6" font-weight="bold">(relative to <tspan font-style="italic">β-actin</tspan> )</text>
<text x="154.2" y="772.9" text-anchor="middle" font-size="8.85" font-weight="bold">Post-cooling (h)</text>
<text x="12.2" y="578.2" font-size="15.5">(G)</text>
<rect x="52.4" y="584.7" width="74.2" height="24.6" fill="#fff" stroke="#8c8c8c" stroke-width="0.8"/>
<path d="M53.6 591.8h16.7" stroke="#8a8a8a" stroke-width="0.8"/>
<rect x="60.2" y="590.2" width="3.2" height="3.2" fill="#000"/>
<path d="M53.6 603.6h16.7" stroke="#ff8080" stroke-width="0.8"/>
<circle cx="61.8" cy="603.6" r="1.85" fill="#f00"/>
<text x="72.7" y="594.85" font-size="8.85">28 °C to 18 °C</text>
<text x="72.7" y="606.65" font-size="8.85">28 °C to 28 °C</text>
<polyline points="49.8,707.9 52.19,711.4 64.14,712.15 78.49,710.4 107.17,716.9 250.6,712.65" fill="none" stroke="#ff8080" stroke-width="0.8"/>
<polyline points="49.8,707.9 52.19,692.4 64.14,702.9 78.49,716.9 107.17,681.4 250.6,607.15" fill="none" stroke="#8a8a8a" stroke-width="0.8"/>
<path d="M49.8 710.4V705.4M48.6 710.4h2.4M48.6 705.4h2.4M52.19 718.15V705.15M50.99 718.15h2.4M50.99 705.15h2.4M64.14 714.65V709.65M62.94 714.65h2.4M62.94 709.65h2.4M78.49 714.9V705.9M77.29 714.9h2.4M77.29 705.9h2.4M107.17 721.15V712.4M105.97 721.15h2.4M105.97 712.4h2.4M250.6 716.9V707.4M249.4 716.9h2.4M249.4 707.4h2.4" stroke="#ff9a9a" stroke-width="1"/>
<path d="M52.19 703.9V681.15M50.99 703.9h2.4M50.99 681.15h2.4M64.14 711.9V693.4M62.94 711.9h2.4M62.94 693.4h2.4M78.49 720.9V712.65M77.29 720.9h2.4M77.29 712.65h2.4M107.17 695.4V667.4M105.97 695.4h2.4M105.97 667.4h2.4M250.6 618.65V595.15M249.4 618.65h2.4M249.4 595.15h2.4" stroke="#8c8c8c" stroke-width="1"/>
<circle cx="49.8" cy="707.9" r="1.85" fill="#f00"/>
<circle cx="52.19" cy="711.4" r="1.85" fill="#f00"/>
<circle cx="64.14" cy="712.15" r="1.85" fill="#f00"/>
<circle cx="78.49" cy="710.4" r="1.85" fill="#f00"/>
<circle cx="107.17" cy="716.9" r="1.85" fill="#f00"/>
<circle cx="250.6" cy="712.65" r="1.85" fill="#f00"/>
<rect x="50.54" y="690.75" width="3.3" height="3.3" fill="#000"/>
<rect x="62.49" y="701.25" width="3.3" height="3.3" fill="#000"/>
<rect x="76.84" y="715.25" width="3.3" height="3.3" fill="#000"/>
<rect x="105.52" y="679.75" width="3.3" height="3.3" fill="#000"/>
<rect x="248.95" y="605.5" width="3.3" height="3.3" fill="#000"/>
<path d="M250.6 585.9L250.6 589.9M248.87 586.9L252.33 588.9M248.87 588.9L252.33 586.9" stroke="#777" stroke-width="1.5"/>
<circle cx="250.6" cy="587.9" r="1.2" fill="#777"/>
<path d="M308.2 583.9V750.3H539.6" fill="none" stroke="#3a3a3a" stroke-width="0.9"/>
<path d="M305.2 750.3H308.2M306.4 737.5H308.2M305.2 724.7H308.2M306.4 711.9H308.2M305.2 699.1H308.2M306.4 686.3H308.2M305.2 673.5H308.2M306.4 660.7H308.2M305.2 647.9H308.2M306.4 635.1H308.2M305.2 622.3H308.2M306.4 609.5H308.2M305.2 596.7H308.2M306.4 583.9H308.2M314.2 750.3V753.1M329.26 750.3V751.9M344.31 750.3V753.1M359.37 750.3V751.9M374.43 750.3V753.1M389.49 750.3V751.9M404.54 750.3V753.1M419.6 750.3V751.9M434.66 750.3V753.1M449.71 750.3V751.9M464.77 750.3V753.1M479.83 750.3V751.9M494.89 750.3V753.1M509.94 750.3V751.9M525 750.3V753.1M539.15 750.3V751.9" stroke="#3a3a3a" stroke-width="0.9"/>
<text x="303.5" y="753.2" text-anchor="end" font-size="8.7">0</text>
<text x="303.5" y="727.6" text-anchor="end" font-size="8.7">1</text>
<text x="303.5" y="702" text-anchor="end" font-size="8.7">2</text>
<text x="303.5" y="676.4" text-anchor="end" font-size="8.7">3</text>
<text x="303.5" y="650.8" text-anchor="end" font-size="8.7">4</text>
<text x="303.5" y="625.2" text-anchor="end" font-size="8.7">5</text>
<text x="303.5" y="599.6" text-anchor="end" font-size="8.7">6</text>
<text x="314.2" y="763.2" text-anchor="middle" font-size="8.7">0</text>
<text x="344.31" y="763.2" text-anchor="middle" font-size="8.7">24</text>
<text x="374.43" y="763.2" text-anchor="middle" font-size="8.7">48</text>
<text x="404.54" y="763.2" text-anchor="middle" font-size="8.7">72</text>
<text x="434.66" y="763.2" text-anchor="middle" font-size="8.7">96</text>
<text x="464.77" y="763.2" text-anchor="middle" font-size="8.7">120</text>
<text x="494.89" y="763.2" text-anchor="middle" font-size="8.7">144</text>
<text x="525" y="763.2" text-anchor="middle" font-size="8.7">168</text>
<text transform="translate(283.14 666.1) rotate(-90)" text-anchor="middle" font-size="9.23" font-weight="bold">Relative mRNA abundance of <tspan font-style="italic">tfam</tspan></text>
<text transform="translate(295.36 667.1) rotate(-90)" text-anchor="middle" font-size="9.6" font-weight="bold">(relative to <tspan font-style="italic">β-actin</tspan>)</text>
<text x="420.5" y="775.5" text-anchor="middle" font-size="9.0" font-weight="bold">Post-cooling (h)</text>
<text x="279" y="578.2" font-size="15.5">(H)</text>
<rect x="315.6" y="585.5" width="80.8" height="23.3" fill="#fff" stroke="#8c8c8c" stroke-width="0.8"/>
<path d="M317 591.4h20" stroke="#8a8a8a" stroke-width="0.8"/>
<rect x="325.1" y="589.8" width="3.2" height="3.2" fill="#000"/>
<path d="M317 602.7h20" stroke="#ff8080" stroke-width="0.8"/>
<circle cx="326.7" cy="602.7" r="1.85" fill="#f00"/>
<text x="339.7" y="594.52" font-size="9.05">28 °C to 18 °C</text>
<text x="339.7" y="605.82" font-size="9.05">28 °C to 28 °C</text>
<polyline points="314.2,716.25 316.71,716.25 329.26,718.3 344.31,712.92 374.43,722.91 525,720.86" fill="none" stroke="#ff8080" stroke-width="0.8"/>
<polyline points="314.2,716.25 316.71,742.36 329.26,729.31 344.31,727.77 374.43,706.01 525,693.98" fill="none" stroke="#8a8a8a" stroke-width="0.8"/>
<path d="M314.2 719.32V713.18M313 719.32h2.4M313 713.18h2.4M316.71 719.32V713.18M315.51 719.32h2.4M315.51 713.18h2.4M329.26 720.35V716.25M328.06 720.35h2.4M328.06 716.25h2.4M344.31 720.6V704.99M343.11 720.6h2.4M343.11 704.99h2.4M374.43 727.26V718.81M373.23 727.26h2.4M373.23 718.81h2.4M525 724.7V716.76M523.8 724.7h2.4M523.8 716.76h2.4" stroke="#ff9a9a" stroke-width="1"/>
<path d="M316.71 743.9V740.83M315.51 743.9h2.4M315.51 740.83h2.4M329.26 730.59V728.03M328.06 730.59h2.4M328.06 728.03h2.4M344.31 731.36V723.42M343.11 731.36h2.4M343.11 723.42h2.4M374.43 711.9V700.38M373.23 711.9h2.4M373.23 700.38h2.4M525 702.68V685.79M523.8 702.68h2.4M523.8 685.79h2.4" stroke="#8c8c8c" stroke-width="1"/>
<circle cx="314.2" cy="716.25" r="1.85" fill="#f00"/>
<circle cx="316.71" cy="716.25" r="1.85" fill="#f00"/>
<circle cx="329.26" cy="718.3" r="1.85" fill="#f00"/>
<circle cx="344.31" cy="712.92" r="1.85" fill="#f00"/>
<circle cx="374.43" cy="722.91" r="1.85" fill="#f00"/>
<circle cx="525" cy="720.86" r="1.85" fill="#f00"/>
<rect x="315.06" y="740.71" width="3.3" height="3.3" fill="#000"/>
<rect x="327.61" y="727.66" width="3.3" height="3.3" fill="#000"/>
<rect x="342.66" y="726.12" width="3.3" height="3.3" fill="#000"/>
<rect x="372.78" y="704.36" width="3.3" height="3.3" fill="#000"/>
<rect x="523.35" y="692.33" width="3.3" height="3.3" fill="#000"/>
<path d="M315.21 726.8L315.21 730.8M313.48 727.8L316.94 729.8M313.48 729.8L316.94 727.8" stroke="#777" stroke-width="1.5"/>
<circle cx="315.21" cy="728.8" r="1.2" fill="#777"/>
<path d="M525 668.17L525 672.17M523.27 669.17L526.73 671.17M523.27 671.17L526.73 669.17" stroke="#777" stroke-width="1.5"/>
<circle cx="525" cy="670.17" r="1.2" fill="#777"/>
</svg>
</body></html>
